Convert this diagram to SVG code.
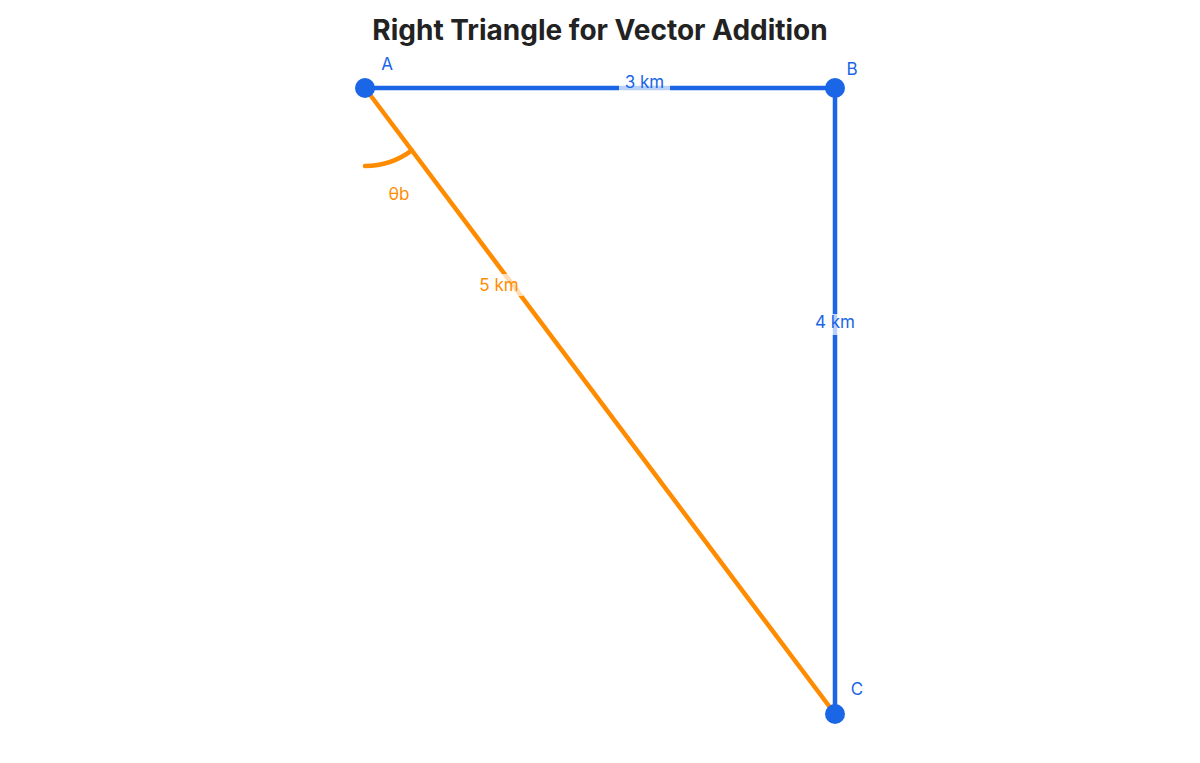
<svg xmlns="http://www.w3.org/2000/svg" width="1200" height="763" viewBox="0 0 1200 763">
<style>
text{font-family:Inter,"Noto Sans","DejaVu Sans",sans-serif}
.title{font-size:28px;font-weight:700;fill:#222222}
.lbl{font-size:17px}
.blue{fill:#1a66e6}
.orange{fill:#ff8c00}
.bg{fill:#ffffff;fill-opacity:0.7}
.edge{fill:none;stroke-width:4.5;stroke-linecap:round}
.node{fill:#1a66e6}
</style>
<rect width="1200" height="763" fill="#ffffff"/>
<text class="title" x="600" y="40" text-anchor="middle">Right Triangle for Vector Addition</text>
<g id="connectors">
<g id="edge-AB">
<line class="edge" x1="365" y1="88" x2="835" y2="88" stroke="#1a66e6"/>
<rect class="bg" x="619" y="76" width="51" height="20"/>
<text class="lbl blue" x="644.5" y="88" text-anchor="middle">3 km</text>
</g>
<g id="edge-BC">
<line class="edge" x1="835" y1="88" x2="835" y2="714" stroke="#1a66e6"/>
<rect class="bg" x="811" y="314" width="48" height="21"/>
<text class="lbl blue" x="835" y="328" text-anchor="middle">4 km</text>
</g>
<g id="edge-AC">
<line class="edge" x1="365" y1="88" x2="835" y2="714" stroke="#ff8c00"/>
<rect class="bg" x="475" y="274" width="48" height="22"/>
<text class="lbl orange" x="499" y="291" text-anchor="middle">5 km</text>
</g>
<g id="angle">
<path class="edge" d="M365,166 A78,78 0 0 0 411.8,150.4" stroke="#ff8c00"/>
<text class="lbl orange" x="399" y="200" text-anchor="middle">θb</text>
</g>
</g>
<g id="node-A">
<circle class="node" cx="365" cy="88" r="10"/>
<text class="lbl blue" x="387" y="70" text-anchor="middle">A</text>
</g>
<g id="node-B">
<circle class="node" cx="835" cy="88" r="10"/>
<text class="lbl blue" x="852" y="75" text-anchor="middle">B</text>
</g>
<g id="node-C">
<circle class="node" cx="835" cy="714" r="10"/>
<text class="lbl blue" x="857" y="695" text-anchor="middle">C</text>
</g>
</svg>
